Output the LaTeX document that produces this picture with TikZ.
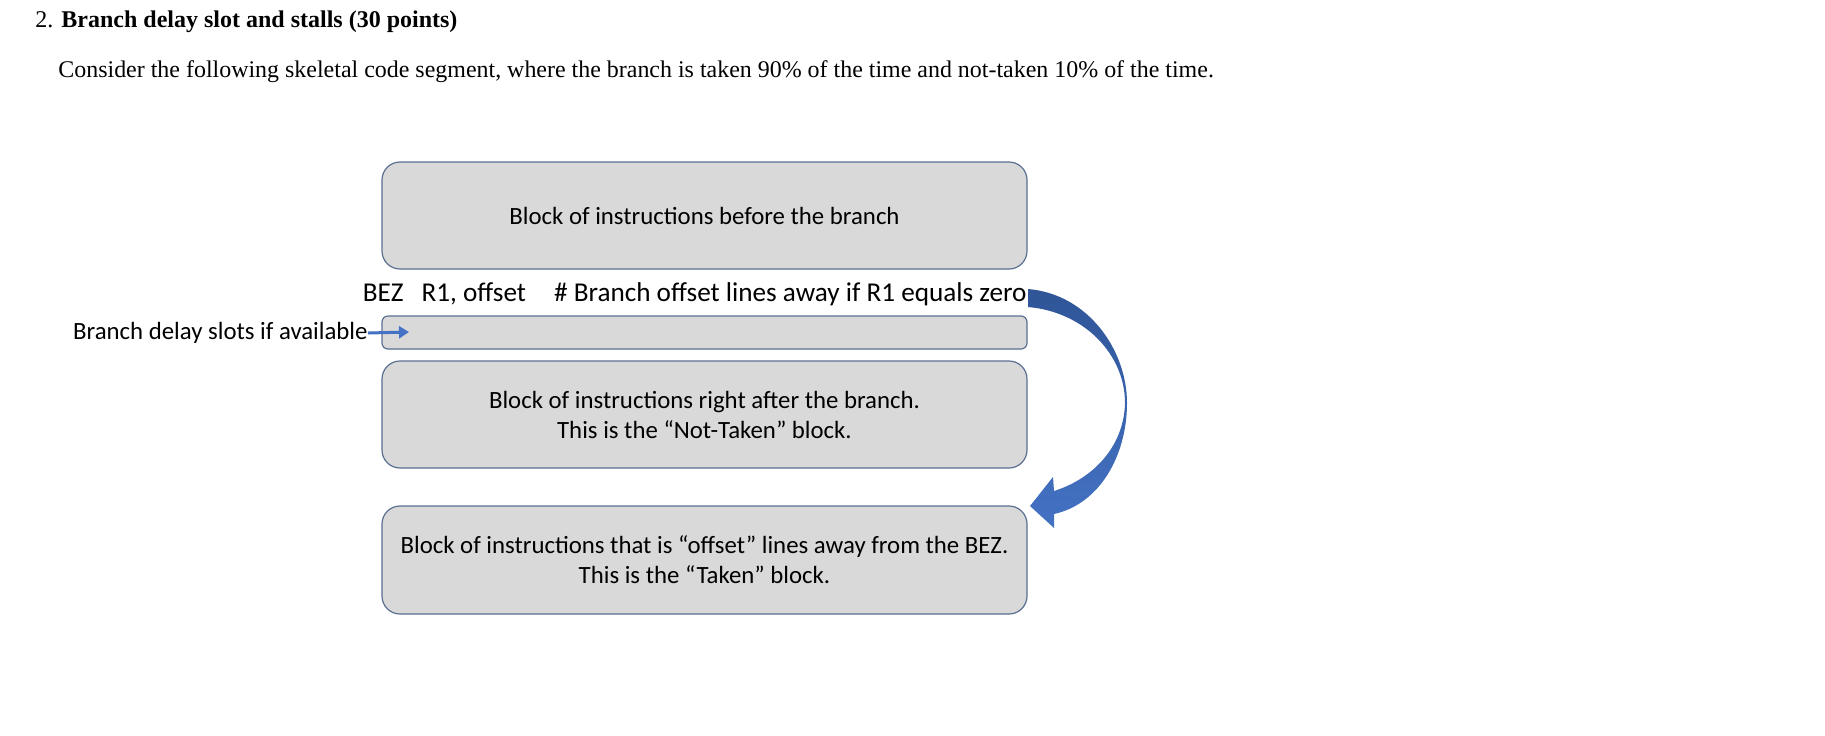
\documentclass[tikz,border=0pt]{standalone}
\usepackage{fontspec}
\setmainfont{Liberation Serif}
\newfontfamily\calibri{Carlito}
\usepackage{tikz}
\usetikzlibrary{positioning, arrows.meta}

\definecolor{boxfill}{HTML}{D9D9D9}
\definecolor{boxline}{HTML}{5A6F91}
\definecolor{arrowdark}{HTML}{2F5597}
\definecolor{arrowlight}{HTML}{4472C4}

\tikzset{
  blockbox/.style={draw=boxline, fill=boxfill, line width=0.6pt, rounded corners=9pt,
    minimum width=322.5pt, minimum height=53.5pt, align=center,
    font=\calibri\fontsize{12.4}{15}\selectfont},
  slotbox/.style={blockbox, rounded corners=3pt, minimum height=16.5pt},
  codetext/.style={inner sep=0pt, font=\calibri\fontsize{12.4}{15}\selectfont},
  slotarrow/.style={draw=arrowlight, line width=1.5pt, -{Triangle[length=5pt, width=6pt]}},
}

\begin{document}
\begin{tikzpicture}[x=0.5pt, y=-0.5pt]
    \useasboundingbox (0,0) rectangle (1825,735);

    % question heading
    \node [anchor=base west, inner sep=0pt, font=\fontsize{12}{14}\selectfont] (qtitle) at (35,27)
        {2. \textbf{Branch delay slot and stalls (30 points)}};
    \node [anchor=base west, inner sep=0pt, font=\fontsize{11.97}{14}\selectfont] (qtext) at (58,77)
        {Consider the following skeletal code segment, where the branch is taken 90\% of the time and not-taken 10\% of the time.};

    % code blocks
    \node [blockbox] (before) at (704.5,215.5) {Block of instructions before the branch};
    \node [codetext, anchor=base east, font=\calibri\fontsize{13.6}{16}\selectfont] (bez) at (1027,301)
        {BEZ\hspace{9pt}R1, offset\hspace{14pt}\# Branch offset lines away if R1 equals zero};
    \node [slotbox] (slot) at (704.5,332.5) {};
    \node [blockbox] (nottaken) at (704.5,414.5)
        {Block of instructions right after the branch.\\This is the “Not-Taken” block.};
    \node [blockbox, minimum height=54pt] (taken) at (704.5,560)
        {Block of instructions that is “offset” lines away from the BEZ.\\This is the “Taken” block.};

    % delay slot label
    \node [codetext, anchor=east] (slotlbl) at (368,333) {Branch delay slots if available};
    \coordinate (slottip) at (409,332);
    \draw [slotarrow] (slotlbl.east) -- (slottip);

    % taken branch arrow
    \shade [top color=arrowdark, bottom color=arrowlight]
        (1028,289) .. controls (1088,294) and (1127,350) .. (1127,403)
        .. controls (1127,455) and (1100,504) .. (1054,514)
        -- (1054,528) -- (1030,506) -- (1053,477) -- (1054,491)
        .. controls (1095,478) and (1124,445) .. (1125,403)
        .. controls (1125,355) and (1085,312) .. (1028,307) -- cycle;
\end{tikzpicture}
\end{document}
